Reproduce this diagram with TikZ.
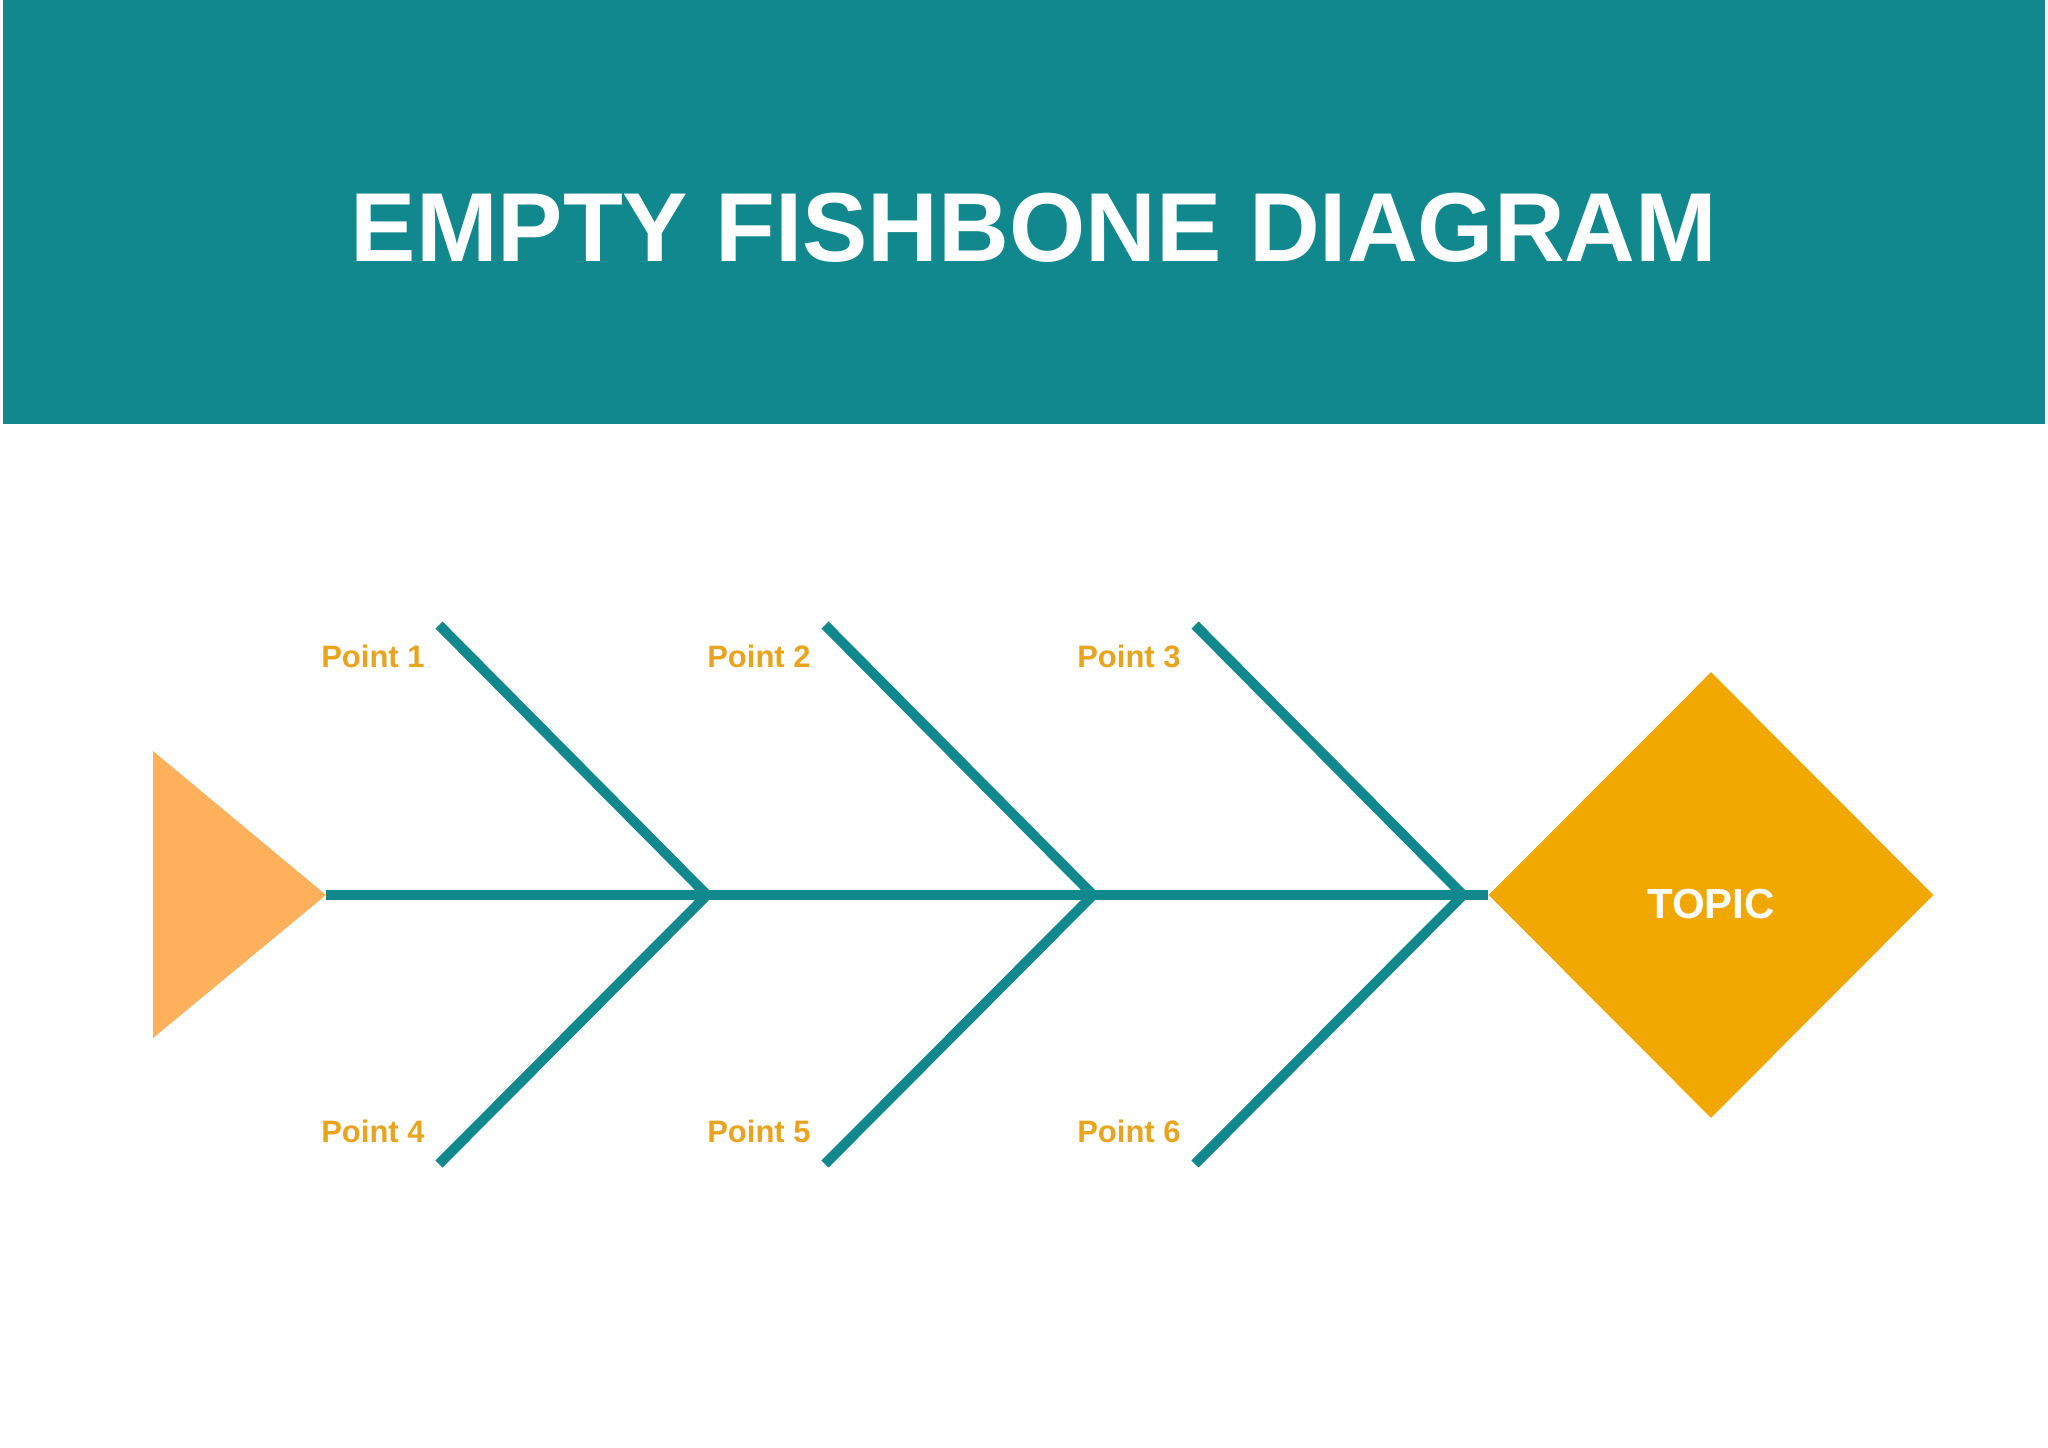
\documentclass[tikz,border=0pt]{standalone}
\usepackage{fontspec}
\setmainfont{Liberation Sans}
\usetikzlibrary{shapes.geometric}
\definecolor{fishteal}{HTML}{11888D}
\definecolor{tailorange}{HTML}{FEB05A}
\definecolor{topicgold}{HTML}{F0A800}
\definecolor{pointgold}{HTML}{E8A41E}
\begin{document}
\begin{tikzpicture}
[x=0.5pt,y=-0.5pt,
  bonedecorate/.style={-,line width=5pt,draw=fishteal},
  pointlabel/.style={anchor=east,inner sep=0pt,text=pointgold,font=\bfseries\fontsize{15.5}{18}\selectfont},
  topicdecorate/.style={shape=diamond,fill=topicgold,inner sep=0pt,minimum width=222.5pt,minimum height=223pt},
  titledecorate/.style={inner sep=0pt,text=white,font=\bfseries\fontsize{49}{58}\selectfont}]
\useasboundingbox (0,0) rectangle (2048,1447);
%% title bar
\fill[fishteal] (3,0) rectangle (2045,424);
\node[titledecorate] (title) at (1034,228) {EMPTY FISHBONE DIAGRAM};
%% head and tail
\node[topicdecorate] (topic) at (1711,895) {};
\node[inner sep=0pt,text=white,font=\bfseries\fontsize{21}{25}\selectfont] (topictext) at ([yshift=-4.5pt]topic.center) {TOPIC};
\coordinate (tail) at (326,895);
\draw[bonedecorate] (tail) -- (topic.west);
\fill[tailorange] (153,751) -- (tail) -- (153,1038) -- cycle;
%% bones and labels
\foreach \bonename/\x/\upper/\lower in {1/707/1/4, 2/1093/2/5, 3/1463/3/6} {
  \coordinate (j\bonename) at (\x,895);
  \coordinate (t\bonename) at (\x-268,625);
  \coordinate (b\bonename) at (\x-268,1164);
  \draw[bonedecorate] (t\bonename) -- (j\bonename) -- (b\bonename);
  \node[pointlabel] (point\upper) at ([xshift=-7pt,yshift=-15.5pt]t\bonename) {Point \upper};
  \node[pointlabel] (point\lower) at ([xshift=-7pt,yshift=16.5pt]b\bonename) {Point \lower};
}
\end{tikzpicture}
\end{document}
